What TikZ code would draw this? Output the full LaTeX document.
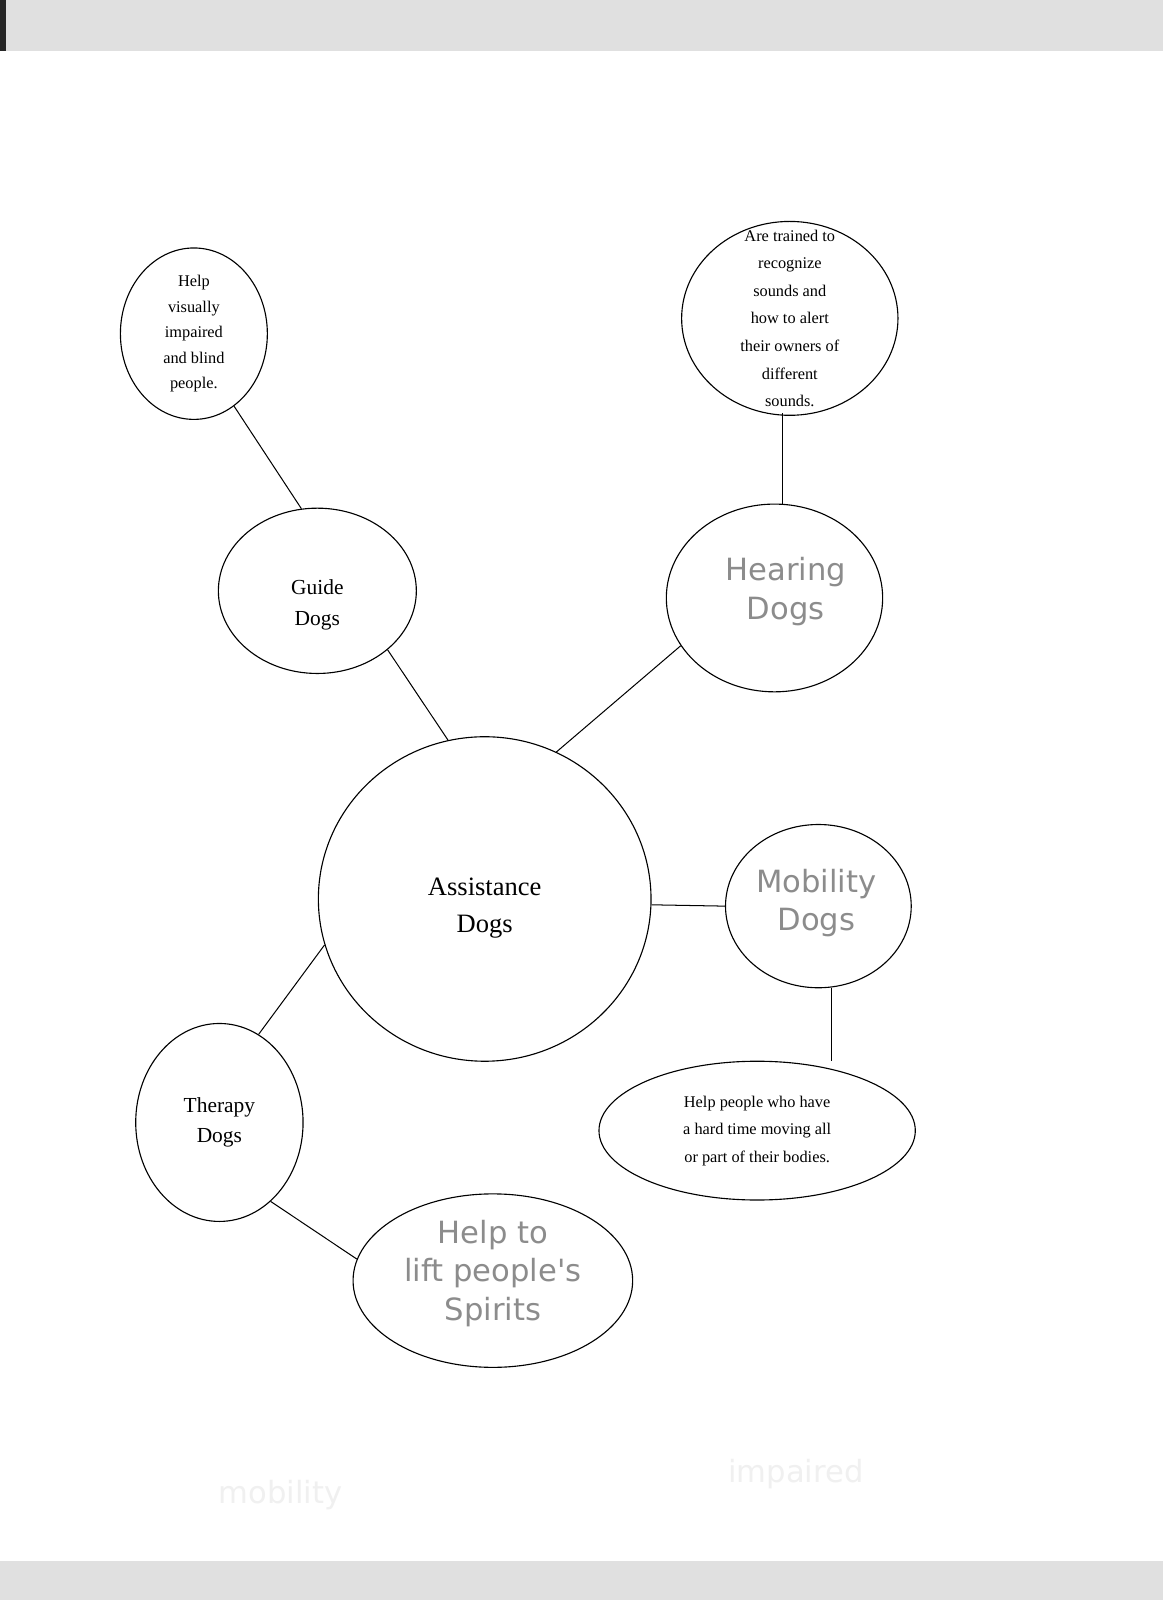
\documentclass[tikz,border=0pt]{standalone}
\usetikzlibrary{shapes.geometric}
\usepackage{fontspec}
\setmainfont{Liberation Serif}
\newfontfamily\hand{DejaVu Sans}
\begin{document}
\begin{tikzpicture}[x=1pt,y=-1pt,
 bub/.style={ellipse,draw,line width=1.1pt,inner sep=0pt},
 txt/.style={align=center,inner sep=0pt},
 con/.style={line width=1pt},
 hw/.style={font=\hand\fontsize{30}{38}\selectfont,text=black!45}]
\fill[white] (0,0) rectangle (1140,1568);
\fill[black!12] (0,0) rectangle (1140,50);
\fill[black!85] (0,0) rectangle (6,50);
\fill[black!12] (0,1530) rectangle (1140,1568);
\useasboundingbox (0,0) rectangle (1140,1568);
\node[bub,minimum width=326pt,minimum height=318pt] (a) at (475,881) {};
\node[txt,font=\fontsize{26}{37}\selectfont] (at) at (475,890) {Assistance\\Dogs};
\node[bub,minimum width=194pt,minimum height=162pt] (g) at (311,579) {};
\node[txt,font=\fontsize{21}{30}\selectfont] (gt) at (311,593) {Guide\\Dogs};
\node[bub,minimum width=144pt,minimum height=168pt] (v) at (190,327) {};
\node[txt,font=\fontsize{16}{25}\selectfont] (vt) at (190,327) {Help\\visually\\impaired\\and blind\\people.};
\node[bub,minimum width=212pt,minimum height=184pt] (h) at (759,586) {};
\node[txt,hw] (ht) at (770,580) {Hearing\\Dogs};
\node[bub,minimum width=212pt,minimum height=190pt] (t) at (774,312) {};
\node[txt,font=\fontsize{16}{27}\selectfont] (tt) at (774,312) {Are trained to\\recognize\\sounds and\\how to alert\\their owners of\\different\\sounds.};
\node[bub,minimum width=182pt,minimum height=160pt] (m) at (802,888) {};
\node[txt,hw] (mt) at (800,885) {Mobility\\Dogs};
\node[bub,minimum width=310pt,minimum height=136pt] (p) at (742,1108) {};
\node[txt,font=\fontsize{16}{27}\selectfont] (pt) at (742,1108) {Help people who have\\a hard time moving all\\or part of their bodies.};
\node[bub,minimum width=164pt,minimum height=194pt] (th) at (215,1100) {};
\node[txt,font=\fontsize{21}{30}\selectfont] (tht) at (215,1100) {Therapy\\Dogs};
\node[bub,minimum width=274pt,minimum height=170pt] (l) at (483,1255) {};
\node[txt,hw] (lt) at (483,1248) {Help to\\lift people's\\Spirits};
\draw[con] (g.101) -- (v.-61);
\draw[con] (g.-40) -- (a.103);
\draw[con] (h.207) -- (a.64);
\draw[con] (767,405) coordinate (t1) -- (767,495) coordinate (h2);
\draw[con] (a.-2) -- (m.west);
\draw[con] (815,968) coordinate (m1) -- (815,1040) coordinate (p1);
\draw[con] (a.196) -- (th.66);
\draw[con] (th.-57) -- (l.171);
\node[hw,text=black!6] (g1) at (275,1465) {mobility};
\node[hw,text=black!6] (g2) at (780,1445) {impaired};
\end{tikzpicture}
\end{document}
